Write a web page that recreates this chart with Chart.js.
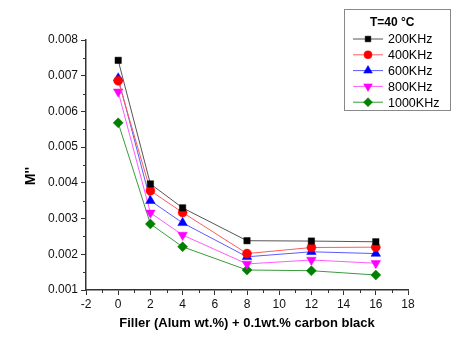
<!DOCTYPE html>
<html><head><meta charset="utf-8">
<script src="https://cdn.jsdelivr.net/npm/chart.js@4/dist/chart.umd.min.js"></script>
<style>html,body{margin:0;padding:0;background:#fff}#wrap{width:474px;height:348px}</style>
</head><body><div id="wrap"><canvas id="c" width="474" height="348"></canvas></div>
<script>
const xValues = [0, 2, 4, 8, 12, 16];
const seriesNames = ["200KHz", "400KHz", "600KHz", "800KHz", "1000KHz"];
const s200 = [0.00743, 0.00397, 0.00330, 0.00238, 0.00237, 0.00235];
const s400 = [0.00686, 0.00378, 0.00317, 0.00202, 0.00219, 0.00220];
const s600 = [0.00693, 0.00350, 0.00288, 0.00193, 0.00207, 0.00202];
const s800 = [0.00655, 0.00316, 0.00254, 0.00173, 0.00184, 0.00175];
const s1000 = [0.00568, 0.00285, 0.00221, 0.00156, 0.00154, 0.00142];
const legendTitle = "T=40 °C";
const xTitle = "Filler (Alum wt.%) + 0.1wt.% carbon black";
const yTitle = "M''";

const colors = ["#000000", "#ff0000", "#0000ff", "#ff00ff", "#008000"];
const lineColors = ["#555555", "#ff5a5a", "#5a5aff", "#ff5aff", "#3c9a3c"];
const markers = ["rect", "circle", "triangle", "triangle", "rectRot"];
const rotations = [0, 0, 0, 180, 0];
const radii = [4.5, 4.5, 5.5, 5.5, 5];
const allSeries = [s200, s400, s600, s800, s1000];

const datasets = allSeries.map((s, i) => ({
  label: seriesNames[i],
  data: xValues.map((x, j) => ({x: x, y: s[j]})),
  borderColor: lineColors[i],
  borderWidth: 1,
  backgroundColor: colors[i],
  pointBackgroundColor: colors[i],
  pointBorderColor: colors[i],
  pointBorderWidth: 0.5,
  pointStyle: markers[i],
  rotation: rotations[i],
  pointRadius: radii[i],
  tension: 0,
  order: i
}));

const font = "Arial, 'Liberation Sans', sans-serif";

const extras = {
  id: 'extras',
  afterDraw(chart) {
    const ctx = chart.ctx;
    const xs = chart.scales.x, ys = chart.scales.y;
    const ca = chart.chartArea;
    ctx.save();
    ctx.strokeStyle = '#333';
    ctx.lineWidth = 1;
    // minor ticks
    for (let v = -1; v <= 17; v += 2) {
      const px = Math.round(xs.getPixelForValue(v)) + 0.5;
      ctx.beginPath(); ctx.moveTo(px, ca.bottom); ctx.lineTo(px, ca.bottom + 3); ctx.stroke();
    }
    for (let k = 0; k < 7; k++) {
      const v = 0.0015 + k * 0.001;
      const py = Math.round(ys.getPixelForValue(v)) + 0.5;
      ctx.beginPath(); ctx.moveTo(ca.left - 3, py); ctx.lineTo(ca.left, py); ctx.stroke();
    }
    // y title
    ctx.fillStyle = '#000';
    ctx.font = "bold 14px " + font;
    ctx.translate(31, 176);
    ctx.rotate(-Math.PI / 2);
    ctx.textAlign = 'center';
    ctx.textBaseline = 'middle';
    ctx.fillText(yTitle, 0, 0);
    ctx.restore();

    // legend
    ctx.save();
    const bx = 344.5, by = 9.5, bw = 106, bh = 101;
    ctx.fillStyle = '#fff';
    ctx.fillRect(bx, by, bw, bh);
    ctx.strokeStyle = '#888';
    ctx.lineWidth = 1;
    ctx.strokeRect(bx, by, bw, bh);
    ctx.fillStyle = '#000';
    ctx.font = "bold 12px " + font;
    ctx.textAlign = 'left';
    ctx.textBaseline = 'middle';
    ctx.fillText(legendTitle, 370, 23);
    ctx.font = "12.5px " + font;
    chart.data.datasets.forEach((ds, i) => {
      const yy = 39 + i * 15.8;
      ctx.strokeStyle = ds.borderColor;
      ctx.lineWidth = 1;
      ctx.beginPath(); ctx.moveTo(353, yy); ctx.lineTo(383, yy); ctx.stroke();
      ctx.fillStyle = ds.pointBackgroundColor;
      ctx.strokeStyle = ds.pointBorderColor;
      ctx.lineWidth = 0.5;
      Chart.helpers.drawPoint(ctx, {
        pointStyle: ds.pointStyle, rotation: ds.rotation, radius: ds.pointRadius - 0.5, borderWidth: 0.5
      }, 368, yy);
      ctx.fillStyle = '#000';
      ctx.fillText(ds.label, 388, yy + 1);
    });
    ctx.restore();
  }
};

new Chart(document.getElementById('c'), {
  type: 'line',
  data: { datasets: datasets },
  options: {
    responsive: false,
    animation: false,
    devicePixelRatio: 1,
    layout: { padding: { left: 0, right: 66, top: 40, bottom: 0 } },
    plugins: { legend: { display: false }, tooltip: { enabled: false } },
    scales: {
      x: {
        type: 'linear', min: -2, max: 18,
        afterFit: s => { s.height = 58; },
        ticks: { stepSize: 2, color: '#111', font: { family: font, size: 12 }, padding: 2, maxRotation: 0 },
        grid: { display: true, drawOnChartArea: false, drawTicks: true, tickLength: 5, color: '#333', lineWidth: 1 },
        border: { display: true, color: '#333', width: 1.5 },
        title: { display: true, text: xTitle, color: '#000', font: { family: font, size: 13, weight: 'bold' }, padding: { top: 4, bottom: 17 } }
      },
      y: {
        type: 'linear', min: 0.001, max: 0.008,
        afterFit: s => { s.width = 86; },
        ticks: { stepSize: 0.001, color: '#111', font: { family: font, size: 12 }, padding: 3,
          callback: v => v.toFixed(3) },
        grid: { display: true, drawOnChartArea: false, drawTicks: true, tickLength: 5, color: '#333', lineWidth: 1 },
        border: { display: true, color: '#333', width: 1.5 }
      }
    }
  },
  plugins: [extras]
});
</script>
</body></html>
